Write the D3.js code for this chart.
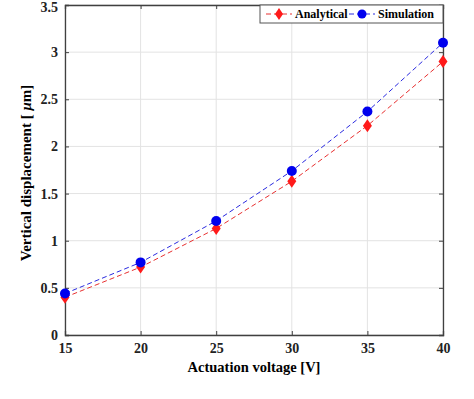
<!DOCTYPE html>
<html><head><meta charset="utf-8">
<script src="https://cdn.jsdelivr.net/npm/d3@7"></script>
<style>body{margin:0;background:#fff}</style>
</head><body>
<script>
const voltages = [15, 20, 25, 30, 35, 40];
const analytical = [0.40, 0.72, 1.13, 1.63, 2.22, 2.90];
const simulation = [0.44, 0.77, 1.21, 1.74, 2.37, 3.10];
const xTicks = [15, 20, 25, 30, 35, 40];
const yTicks = [0, 0.5, 1, 1.5, 2, 2.5, 3, 3.5];
const seriesNames = ["Analytical", "Simulation"];

const W = 474, H = 399;
const m = {l: 65, r: 31, t: 5, b: 64};
const svg = d3.select("body").append("svg").attr("width", W).attr("height", H);
const x = d3.scaleLinear().domain([15, 40]).range([m.l, W - m.r]);
const y = d3.scaleLinear().domain([0, 3.5]).range([H - m.b, m.t]);
const font = "'Liberation Serif','Times New Roman',serif";

// grid
const g = svg.append("g");
g.selectAll(".gx").data(xTicks).join("line")
  .attr("x1", d => x(d)).attr("x2", d => x(d)).attr("y1", y(0)).attr("y2", y(3.5))
  .attr("stroke", "#e3e3e3").attr("stroke-width", 1);
g.selectAll(".gy").data(yTicks).join("line")
  .attr("y1", d => y(d)).attr("y2", d => y(d)).attr("x1", x(15)).attr("x2", x(40))
  .attr("stroke", "#e3e3e3").attr("stroke-width", 1);

// axes
const ax = "#404040";
const xAxis = svg.append("g").attr("transform", `translate(0,${y(0)})`)
  .call(d3.axisBottom(x).tickValues(xTicks).tickSize(-4).tickPadding(8).tickFormat(d3.format("d")));
const xAxisTop = svg.append("g").attr("transform", `translate(0,${y(3.5)})`)
  .call(d3.axisTop(x).tickValues(xTicks).tickSize(-4).tickFormat(""));
const yAxis = svg.append("g").attr("transform", `translate(${x(15)},0)`)
  .call(d3.axisLeft(y).tickValues(yTicks).tickSize(-4).tickPadding(7).tickFormat(d => d));
const yAxisR = svg.append("g").attr("transform", `translate(${x(40)},0)`)
  .call(d3.axisRight(y).tickValues(yTicks).tickSize(-4).tickFormat(""));
[xAxis, xAxisTop, yAxis, yAxisR].forEach(a => {
  a.select(".domain").attr("stroke", ax).attr("stroke-width", 1.3);
  a.selectAll(".tick line").attr("stroke", ax);
  a.selectAll("text").attr("font-family", font).attr("font-weight", "bold")
    .attr("font-size", 14).attr("fill", "#222");
});
// keep the top label just inside the page
yAxis.selectAll(".tick text").filter(d => d === 3.5).attr("dy", "0.45em");

// lines
const colors = ["#ff1a1a", "#0000ee"];
const lineColors = ["#e83030", "#2a2ae0"];
const data = [analytical, simulation];
const line = d3.line().x((d, i) => x(voltages[i])).y(d => y(d));
data.forEach((s, k) => {
  svg.append("path").datum(s).attr("d", line).attr("fill", "none")
    .attr("stroke", lineColors[k]).attr("stroke-width", 1).attr("stroke-dasharray", "5,3");
});
const diamond = (cx, cy, w, h) => `M${cx},${cy-h}L${cx+w},${cy}L${cx},${cy+h}L${cx-w},${cy}Z`;
svg.append("g").selectAll("path").data(analytical).join("path")
  .attr("d", (d, i) => diamond(x(voltages[i]), y(d), 4.5, 6.5)).attr("fill", colors[0]);
svg.append("g").selectAll("circle").data(simulation).join("circle")
  .attr("cx", (d, i) => x(voltages[i])).attr("cy", d => y(d)).attr("r", 5).attr("fill", colors[1]);

// legend
const lg = svg.append("g");
lg.append("rect").attr("x", 260).attr("y", y(3.5)).attr("width", x(40) - 260).attr("height", 18)
  .attr("fill", "#fff").attr("stroke", "#555").attr("stroke-width", 1);
const ly = y(3.5) + 9;
lg.append("line").attr("x1", 266).attr("x2", 292).attr("y1", ly).attr("y2", ly)
  .attr("stroke", lineColors[0]).attr("stroke-dasharray", "5,3");
lg.append("path").attr("d", diamond(279, ly, 4, 6)).attr("fill", colors[0]);
lg.append("text").attr("x", 295).attr("y", ly + 4).text(seriesNames[0]);
lg.append("line").attr("x1", 349).attr("x2", 375).attr("y1", ly).attr("y2", ly)
  .attr("stroke", lineColors[1]).attr("stroke-dasharray", "5,3");
lg.append("circle").attr("cx", 362).attr("cy", ly).attr("r", 4.5).attr("fill", colors[1]);
lg.append("text").attr("x", 378).attr("y", ly + 4).text(seriesNames[1]);
lg.selectAll("text").attr("font-family", font).attr("font-weight", "bold").attr("font-size", 12);

// axis labels
svg.append("text").attr("x", (x(15) + x(40)) / 2).attr("y", 372).attr("text-anchor", "middle")
  .attr("font-family", font).attr("font-weight", "bold").attr("font-size", 14.5)
  .text("Actuation voltage [V]");
const yl = svg.append("text").attr("transform", `translate(31,${(y(0)+y(3.5))/2 + 3}) rotate(-90)`)
  .attr("text-anchor", "middle").attr("font-family", font).attr("font-weight", "bold").attr("font-size", 15);
yl.append("tspan").text("Vertical displacement [ ");
yl.append("tspan").attr("font-style", "italic").text("μ");
yl.append("tspan").text("m]");
</script>
</body></html>
